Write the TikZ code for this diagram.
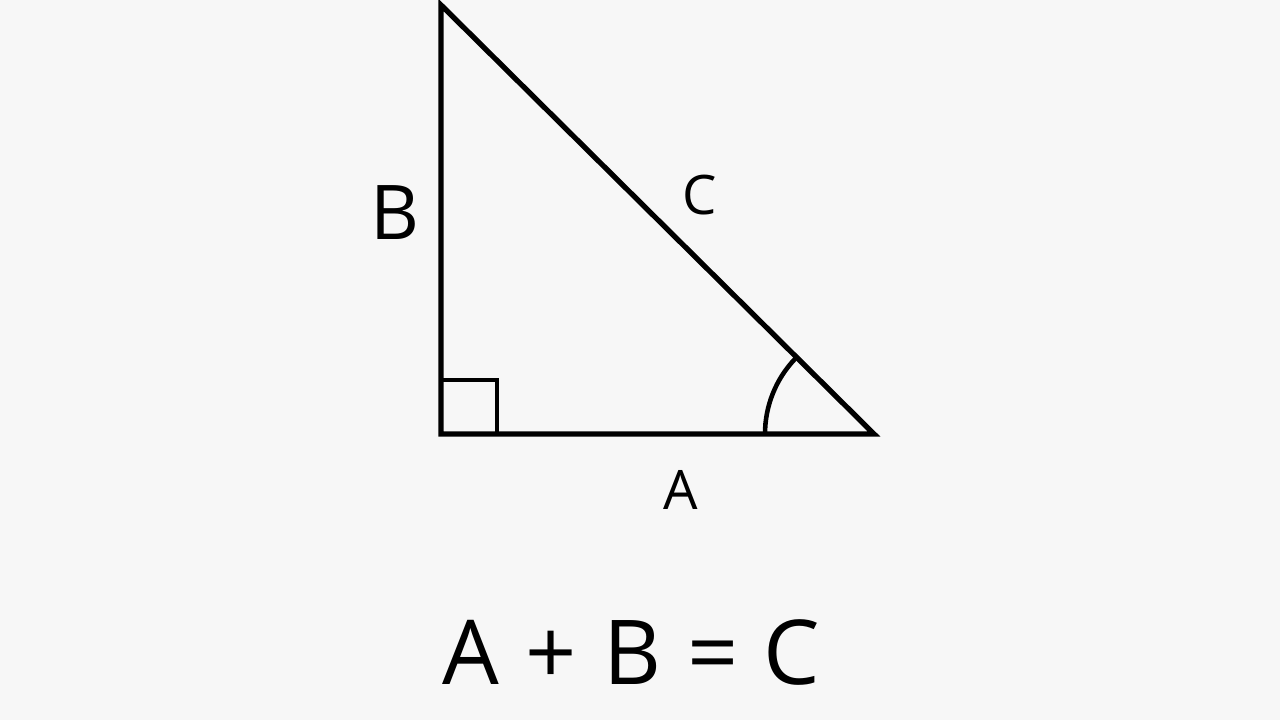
\documentclass[tikz,border=0pt]{standalone}
\usepackage{fontspec}
\setmainfont{Open Sans}
\usepackage{tikz}
\definecolor{paper}{HTML}{F7F7F7}
\tikzset{
	side/.style={line width=3pt,line join=miter},
	anglemark/.style={line width=2.6pt},
	sidelabel/.style={inner sep=0pt,font=\fontsize{31}{31}\selectfont},
}

\begin{document}
\begin{tikzpicture}[x=0.02cm,y=0.02cm]
	\fill[paper] (0,0) rectangle (1280,720);
	\useasboundingbox (0,0) rectangle (1280,720);
	\coordinate (top) at (441,715);
	\coordinate (rgt) at (441,286);
	\coordinate (end) at (874,286);
	\draw[side] (top) -- (rgt) -- (end) -- cycle;
	\draw[anglemark] (441,340) -| (497,286);
	\draw[anglemark] (765,286) arc[start angle=180,end angle=136,radius=109];
	\node[sidelabel,font=\fontsize{43}{43}\selectfont] (labB) at (395,507) {B};
	\node[sidelabel] (labC) at (700,525) {C};
	\node[sidelabel] (labA) at (681,230) {A};
	\node[inner sep=0pt,font=\fontsize{51}{51}\selectfont] (sum) at (631,68) {A\hspace{0.3em}+\hspace{0.3em}B\hspace{0.28em}=\hspace{0.28em}C};
\end{tikzpicture}
\end{document}
